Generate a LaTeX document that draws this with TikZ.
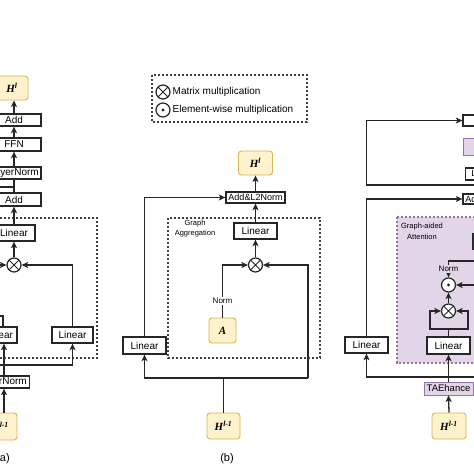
\documentclass[tikz,border=0pt]{standalone}
\usepackage{fontspec}
\setmainfont{Liberation Sans}
\newfontfamily\hfont{Liberation Serif}
\usetikzlibrary{arrows.meta}
\definecolor{yfill}{HTML}{FFF2CC}
\definecolor{ydraw}{HTML}{D6B656}
\definecolor{pfill}{HTML}{E1D5E7}
\definecolor{pdraw}{HTML}{9673A6}
\tikzset{
  ln/.style={draw=black!85, line width=1.3pt},
  arr/.style={ln, -{Stealth[length=6.5pt,width=6pt,inset=1.6pt]}},
  boxn/.style={draw=black!85, line width=1.3pt, fill=white, inner sep=0pt, font=\fontsize{10}{12}\selectfont},
  hbox/.style={draw=ydraw, fill=yfill, rounded corners=3pt, line width=0.9pt, inner sep=0pt, font=\hfont\bfseries\itshape\fontsize{11}{12}\selectfont},
  pbox/.style={draw=pdraw, fill=pfill, line width=0.8pt, inner sep=0pt, font=\fontsize{9.5}{11}\selectfont},
  mulop/.style={circle, draw=black!85, line width=1.2pt, fill=white, minimum size=14pt, inner sep=0pt,
    path picture={\draw[black!85, line width=1pt] (path picture bounding box.north west) -- (path picture bounding box.south east)
      (path picture bounding box.north east) -- (path picture bounding box.south west);}},
  dotop/.style={circle, draw=black!85, line width=1.2pt, fill=white, minimum size=14pt, inner sep=0pt,
    path picture={\fill[black!85] (path picture bounding box.center) circle (1.7pt);}},
  grp/.style={draw=black!75, line width=1.1pt, dash pattern=on 2.2pt off 1.8pt},
  lbl/.style={font=\fontsize{8}{9}\selectfont, inner sep=1pt},
  captxt/.style={font=\fontsize{11}{12}\selectfont, inner sep=0pt},
}
\begin{document}
\begin{tikzpicture}[x=1pt,y=-1pt]
\useasboundingbox (0,0) rectangle (474,474);
\clip (0,0) rectangle (474,474);
\fill[white] (0,0) rectangle (474,474);

% ---------------- panel (a) ----------------
\draw[grp] (-100,218) rectangle (97,358);
\node[hbox, minimum width=32, minimum height=24] (aHl) at (12,88) {H\textsuperscript{l}};
\node[boxn, minimum width=54, minimum height=12] (aAdd1) at (14,120) {Add};
\node[boxn, minimum width=54, minimum height=13] (aFFN) at (14,144.5) {FFN};
\node[boxn, minimum width=54, minimum height=12] (aLN1) at (14,173) {LayerNorm};
\node[boxn, minimum width=54, minimum height=13] (aAdd2) at (14,199.5) {Add};
\node[boxn, minimum width=42, minimum height=16] (aLin) at (14,233) {Linear};
\node[mulop] (aMul) at (14,265) {};
\node[boxn, minimum width=36, minimum height=16] (aLinL) at (-1,335) {Linear};
\node[boxn, minimum width=41, minimum height=16] (aLinR) at (72.5,335) {Linear};
\node[boxn, minimum width=55, minimum height=12] (aLN2) at (2,382) {LayerNorm};
\node[hbox, minimum width=34, minimum height=27] (aHm) at (0,426.5) {H\textsuperscript{l-1}};
\node[captxt] (aCap) at (3,459) {(a)};

\draw[arr] (aAdd1.north) -- (aAdd1.north |- aHl.south);
\draw[arr] (aFFN.north) -- (aAdd1.south);
\draw[arr] (aLN1.north) -- (aFFN.south);
\draw[ln] (aAdd2.north) -- (aLN1.south);
\coordinate (aRes) at (-5,187);
\draw[ln] (aRes) -- (aRes -| aAdd2.north);
\draw[arr] (aLin.north) -- (aAdd2.south);
\draw[arr] (aMul.north) -- (aLin.south);
\coordinate (aQin) at (-5,265);
\draw[arr] (aQin) -- (aMul.west);
\draw[arr] (aLinR.north) |- (aMul.east);
\coordinate (aK) at (3,316);
\coordinate (aKend) at (-5,316);
\draw[ln] (aK |- aLinL.north) -- (aK) -- (aKend);
\coordinate (aBus) at (-5,365);
\draw[arr] (aBus) -| (aLinR.south);
\coordinate (aV) at (4,0);
\draw[arr] (aV |- aLN2.north) -- (aV |- aLinL.south);
\draw[arr] (aV |- aHm.north) -- (aV |- aLN2.south);

% ---------------- legend ----------------
\draw[grp] (152,75) rectangle (307,122);
\node[mulop] (lgM) at (163,92) {};
\node[anchor=west, inner sep=0pt, font=\fontsize{10}{12}\selectfont] (lgMt) at (172.5,92) {Matrix multiplication};
\node[dotop] (lgD) at (163,110) {};
\node[anchor=west, inner sep=0pt, font=\fontsize{10}{12}\selectfont] (lgDt) at (172.5,110) {Element-wise multiplication};

% ---------------- panel (b) ----------------
\draw[grp] (168,218) rectangle (320,358);
\node[lbl, align=center, font=\fontsize{7.5}{10}\selectfont] (bGA) at (195,229) {Graph\\Aggregation};
\node[hbox, minimum width=34, minimum height=24] (bHl) at (255.5,163) {H\textsuperscript{l}};
\node[boxn, minimum width=59, minimum height=11, font=\fontsize{9}{10}\selectfont] (bAdd) at (255.5,197.5) {Add\&L2Norm};
\node[boxn, minimum width=43, minimum height=16] (bLin) at (255.5,231) {Linear};
\node[mulop] (bMul) at (255.5,265) {};
\node[hbox, minimum width=27, minimum height=25] (bA) at (222.5,330.5) {A};
\node[boxn, minimum width=43, minimum height=17] (bLinL) at (144.5,345.5) {Linear};
\node[hbox, minimum width=33, minimum height=26] (bHm) at (223.5,426) {H\textsuperscript{l-1}};
\node[captxt] (bCap) at (227,459) {(b)};

\draw[arr] (bAdd.north) -- (bHl.south);
\draw[arr] (bLin.north) -- (bAdd.south);
\draw[arr] (bMul.north) -- (bLin.south);
\draw[arr] (bA.north) |- (bMul.west);
\node[lbl, fill=white] (bNorm) at (222.5,301) {Norm};
\draw[arr] (bLinL.north) |- (bAdd.west);
\coordinate (bR) at (308,378);
\draw[arr] (bR) |- (bMul.east);
\draw[arr] (bR) -| (bLinL.south);
\draw[ln] (bHm.north) -- (bHm.north |- bR);

% ---------------- panel (c) ----------------
\fill[pfill] (397,217) rectangle (490,363);
\draw[draw=pdraw, line width=1.1pt, dash pattern=on 2.2pt off 1.8pt] (397,217) rectangle (490,363);
\node[lbl, align=center, font=\fontsize{7.5}{11}\selectfont] (cGA) at (422,231) {Graph-aided\\Attention};
\node[draw=black!85, fill=black!80, minimum width=18, minimum height=16, inner sep=0pt] (cDark) at (481,241) {};

\node[boxn, minimum width=34, minimum height=11] (cTop) at (480,120.5) {};
\node[pbox, minimum width=54, minimum height=17] (cPur) at (490,146.5) {};
\node[boxn, anchor=west, minimum width=56, minimum height=12, font=\fontsize{9}{10}\selectfont] (cL) at (465,174) {LayerNorm};
\node[boxn, minimum width=59, minimum height=10, font=\fontsize{9}{10}\selectfont] (cAdd) at (492.5,199) {Add\&L2Norm};

\node[boxn, minimum width=43, minimum height=16] (cLinL) at (366.5,345) {Linear};
\node[dotop] (cDot) at (448.5,285) {};
\node[mulop] (cMul) at (448.5,311) {};
\node[boxn, minimum width=43, minimum height=17] (cLinM) at (448.5,345.5) {Linear};
\node[pbox, minimum width=49, minimum height=13] (cTAE) at (448.5,388.5) {TAEhance};
\node[hbox, minimum width=34, minimum height=26] (cHm) at (449,426) {H\textsuperscript{l-1}};

\coordinate (cRes) at (480,185);
\draw[arr] (cRes) -- (cRes -| cLinL) |- (cTop.west);
\draw[arr] (cLinL.north) |- (cAdd.west);
\coordinate (cNin) at (480,261);
\draw[arr] (cNin) -| (cDot.north);
\node[lbl, fill=pfill] (cNorm) at (448.5,269) {Norm};
\coordinate (cDin) at (480,285);
\draw[arr] (cDin) -- (cDot.east);
\draw[arr] (cMul.north) -- (cDot.south);
\coordinate (cLp) at (430,329);
\coordinate (cRp) at (468,329);
\draw[arr] (cLinM.north) -- (cLinM.north |- cLp) -- (cLp) |- (cMul.west);
\draw[arr] (cLinM.north |- cRp) -- (cRp) |- (cMul.east);
\coordinate (cBus) at (480,377);
\draw[arr] (cBus) -| (cLinL.south);
\draw[arr] (cTAE.north) -- (cLinM.south);
\draw[arr] (cHm.north) -- (cTAE.south);
\end{tikzpicture}
\end{document}
